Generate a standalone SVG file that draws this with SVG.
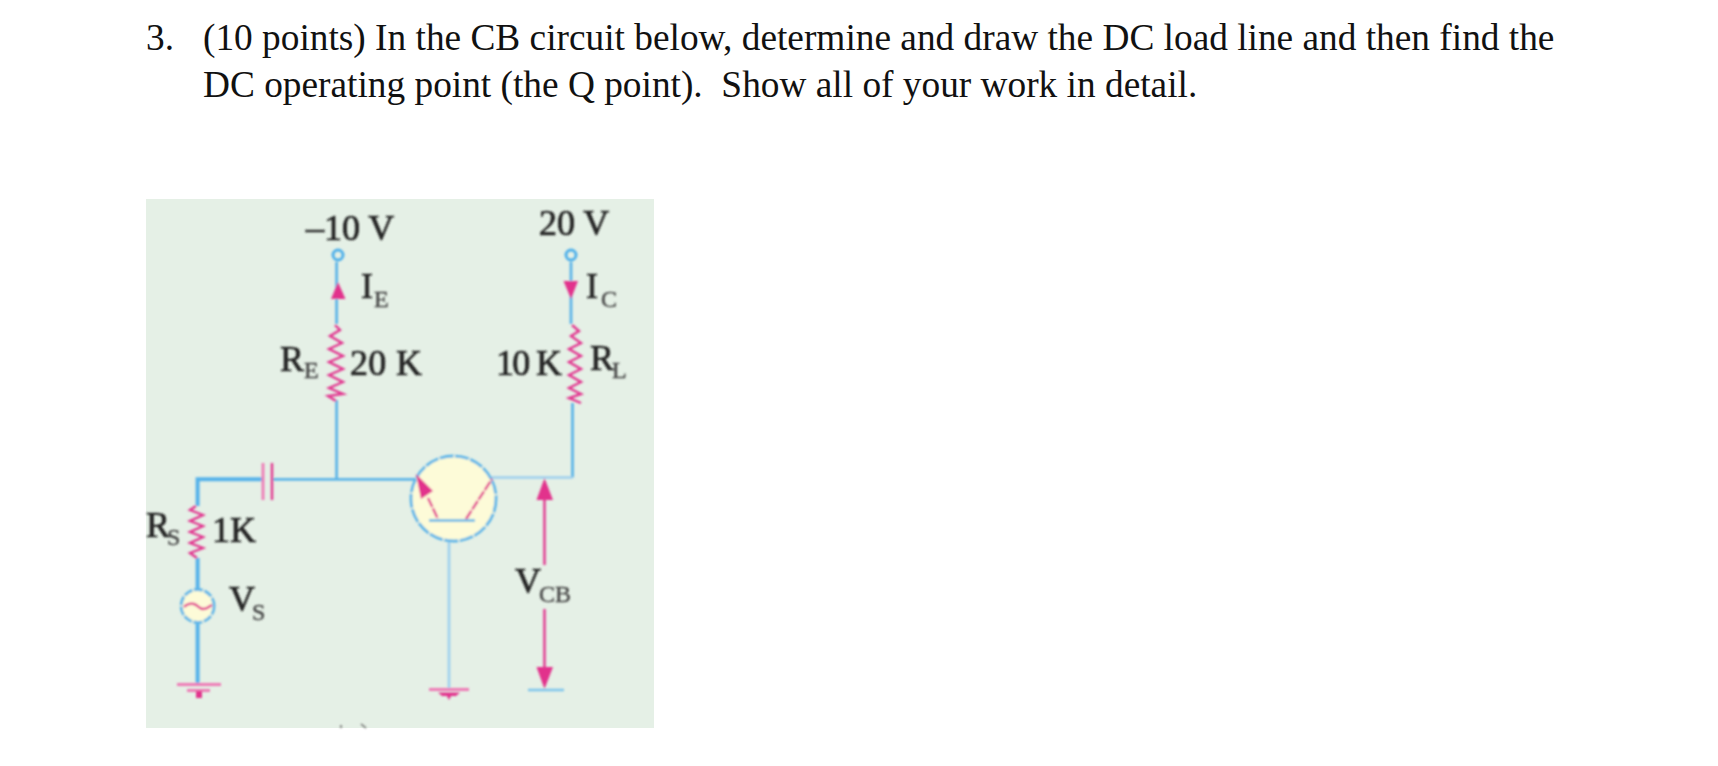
<svg xmlns="http://www.w3.org/2000/svg" width="1718" height="766" viewBox="0 0 1718 766">
<defs>
<filter id="soft" x="-5%" y="-5%" width="110%" height="110%"><feGaussianBlur stdDeviation="0.8"/></filter>
</defs>
<style>
.h{font-family:"Liberation Serif","Times New Roman",serif;font-size:37.35px;fill:#111;white-space:pre}
.t{font-family:"Liberation Serif","Times New Roman",serif;font-size:36px;fill:#222;stroke:#222;stroke-width:.7}
.s{font-family:"Liberation Serif","Times New Roman",serif;font-size:24px;fill:#444;stroke:#444;stroke-width:.4}
.w{fill:none;stroke:#5db5e8;stroke-width:2.8}
.wt{fill:none;stroke:#55b2ea;stroke-width:4}
.wl{fill:none;stroke:#9ccfee;stroke-width:2.6}
.p{fill:none;stroke:#e2358f;stroke-width:2.4}
.pl{fill:none;stroke:#ee79b5;stroke-width:2.8}
.a{fill:#e2318c}
</style>
<rect width="1718" height="766" fill="#fff"/>
<g id="question">
<text class="h" x="146" y="50">3.</text>
<text class="h" x="203" y="50">(10 points) In the CB circuit below, determine and draw the DC load line and then find the</text>
<text class="h" x="203" y="97">DC operating point (the Q point).  Show all of your work in detail.</text>
</g>
<rect id="panel" x="146" y="199" width="508" height="529" fill="#e5f0e6"/>
<g filter="url(#soft)">
<g id="connectors">
<path class="w" d="M336.600 262V324M336.600 400V479.300M272 479.300H417"/>
<path class="wt" d="M263 479.300H197.600V506M197.600 558V590M197.600 624V683"/>
<path class="w" d="M571 262V324M572.500 403V477.500"/>
<path class="wl" d="M492 477.500H572.500"/>
<path class="wl" d="M449 521V690"/>
</g>
<g id="terminal-vee"><circle cx="338" cy="255" r="5" fill="none" stroke="#4fb0ea" stroke-width="3"/></g>
<g id="terminal-vcc"><circle cx="571" cy="255" r="5" fill="none" stroke="#4fb0ea" stroke-width="3"/></g>
<g id="arrow-ie"><path class="a" d="M338 282L345.500 299H331Z"/></g>
<g id="arrow-ic"><path class="a" d="M563.500 281H578L571 299Z"/></g>
<g id="resistor-re"><path class="p" d="M335 325L340 330L330 336L342 343L329 349L343 356L329 362L343 369L329 375L343 382L329 388L343 394L328 396L336 401"/></g>
<g id="resistor-rl"><path class="p" d="M572 325L579 331L571 336L581 343L569 349L581 356L569 362L581 369L569 375L581 382L569 388L581 394L569 398L581 403"/></g>
<g id="resistor-rs"><path class="p" d="M196 506L190 510L203 515L190 521L203 526L190 532L203 537L190 543L203 548L190 553L197 558"/></g>
<g id="capacitor">
<path class="pl" d="M263 463V500"/>
<path class="p" stroke-width="3.400" d="M272 463V500"/>
</g>
<g id="transistor">
<circle cx="453.500" cy="498.500" r="42.500" fill="#fdfbd8" stroke="#5db5e8" stroke-width="2.800" stroke-dasharray="14 1.500"/>
<path class="p" stroke-width="2.800" d="M428 498L438 519M466 519L492 479" stroke-dasharray="10 1.500"/>
<path class="a" d="M416 474L433 491L421 499Z"/>
<path d="M429 520.500H475" fill="none" stroke="#5db5e8" stroke-width="2.400"/>
</g>
<g id="source-vs">
<circle cx="197.600" cy="606" r="16.500" fill="#fdfbd8" stroke="#5db5e8" stroke-width="2.800" stroke-dasharray="9 1.500"/>
<path class="p" stroke-width="1.800" d="M184 607C187 604 190 603 194 604S199 609 203 609S208 607 212 605"/>
</g>
<g id="ground-s">
<path class="pl" d="M177 684.500H221M187 690.500H210"/>
<path class="a" d="M196 691H202V698H196Z"/>
</g>
<g id="ground-t">
<path class="pl" d="M429 689.500H469"/>
<path class="a" d="M438 692.500H460L456 696H451L449 700L447 696H442Z"/>
</g>
<g id="vcb-arrow">
<path class="p" stroke-width="3" d="M544.500 495V565M544.500 609V672"/>
<path class="a" d="M544.500 478L553 500H536.500Z"/>
<path class="a" d="M536.500 667H553L544.500 689Z"/>
<path d="M528 690H564" fill="none" stroke="#7cc4ec" stroke-width="2.400"/>
</g>
<g id="labels">
<text class="t" x="306" y="240">–10 V</text>
<text class="t" x="539" y="235">20 V</text>
<text class="t" x="361" y="298">I</text><text class="s" x="374" y="307">E</text>
<text class="t" x="586" y="298">I</text><text class="s" x="601" y="307">C</text>
<text class="t" x="280" y="371">R</text><text class="s" x="304" y="378">E</text>
<text class="t" x="350" y="375" textLength="72">20 K</text>
<text class="t" x="496" y="375" textLength="66">10 K</text>
<text class="t" x="590" y="370">R</text><text class="s" x="612" y="378">L</text>
<text class="t" x="146" y="537">R</text><text class="s" x="167" y="545">S</text>
<text class="t" x="212" y="542">1K</text>
<text class="t" x="229" y="611">V</text><text class="s" x="252" y="620">S</text>
<text class="t" x="515" y="593">V</text><text class="s" x="539" y="602">CB</text>
</g>
<path d="M341 725V728M361 724L366 728" fill="none" stroke="#666" stroke-width="1.500"/>
</g>
</svg>
